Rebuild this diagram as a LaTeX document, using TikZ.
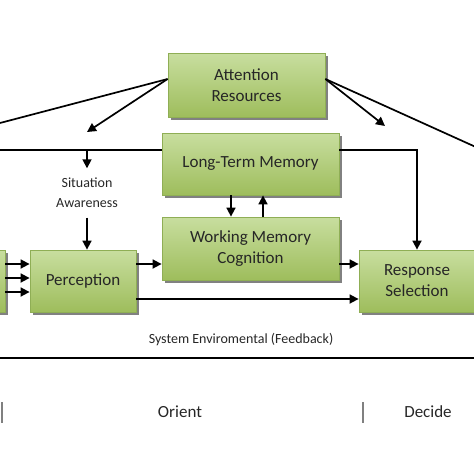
\documentclass[tikz,border=0pt]{standalone}
\usepackage{fontspec}
\setmainfont{Carlito}
\usetikzlibrary{arrows.meta,shadows}
\definecolor{boxtop}{HTML}{C8DE9F}
\definecolor{boxmid}{HTML}{ABC96E}
\definecolor{boxbot}{HTML}{9EBD5C}
\definecolor{boxline}{HTML}{8FAE55}
\begin{document}
\begin{tikzpicture}[x=1pt,y=-1pt,
  box/.style={draw=boxline, line width=0.8pt, top color=boxtop, middle color=boxmid, bottom color=boxbot,
    drop shadow={shadow xshift=2.5pt, shadow yshift=-2.5pt, fill=black!70, opacity=0.7},
    align=center, inner sep=0pt, text=black!85, font=\fontsize{17}{21}\selectfont},
  ln/.style={line width=1.7pt},
  arr/.style={line width=1.7pt, -{Triangle[length=9pt,width=9pt]}},
  small/.style={align=center, inner sep=0pt, text=black!85, font=\fontsize{14}{20}\selectfont},
  phase/.style={inner sep=0pt, text=black!85, font=\fontsize{17}{21}\selectfont}]
\useasboundingbox (0,0) rectangle (474,474);
\clip (0,0) rectangle (474,474);

\draw (246.5,85) node[box, minimum width=157pt, minimum height=64pt] (attn) {Attention\\Resources};
\draw (250.5,164) node[box, minimum width=177pt, minimum height=62pt] (ltm) {Long-Term Memory};
\draw (250.5,248.5) node[box, minimum width=177pt, minimum height=63pt] (wm) {Working Memory\\Cognition};
\draw (83,281) node[box, minimum width=106pt, minimum height=62pt] (perc) {Perception};
\draw (417,281) node[box, minimum width=116pt, minimum height=62pt] (resp) {Response\\Selection};
\draw (-50,281) node[box, minimum width=110pt, minimum height=62pt] (obs) {};

\draw (87,193) node[small, minimum height=49pt] (sa) {Situation\\Awareness};
\draw (241,340) node[small] (env) {System Enviromental (Feedback)};
\draw (180,412) node[phase] (orient) {Orient};
\draw (428,412) node[phase] (decide) {Decide};

\coordinate (fbl) at (0,150);
\coordinate (attnl) at (0,123);
\coordinate (attnsa) at (87,132);
\coordinate (attnrs) at (385,126);
\coordinate (attnr) at (478,148);
\coordinate (envl) at (0,358);
\coordinate (envr) at (474,358);

% attention resources
\draw[ln] ([yshift=6pt]attn.west) -- (attnl);
\draw[arr] ([yshift=6pt]attn.west) -- (attnsa);
\draw[arr] ([yshift=6pt]attn.east) -- (attnrs);
\draw[ln] ([yshift=6pt]attn.east) -- (attnr);

% long-term memory lines
\draw[ln] ([yshift=14pt]ltm.west) -- (fbl);
\draw[arr] (sa.north |- fbl) -- (sa.north);
\draw[arr] (sa.south) -- (sa.south |- perc.north);
\draw[arr] ([yshift=14pt]ltm.east) -| (resp.north);
\draw[arr] ([xshift=-19.5pt]ltm.south) -- ([xshift=-19.5pt]wm.north);
\draw[arr] ([xshift=12.5pt]wm.north) -- ([xshift=12.5pt]ltm.south);

% inputs to perception
\draw[arr] ([yshift=17pt]obs.east) -- ([yshift=17pt]perc.west);
\draw[arr] ([yshift=3pt]obs.east) -- ([yshift=3pt]perc.west);
\draw[arr] ([yshift=-11pt]obs.east) -- ([yshift=-11pt]perc.west);

\draw[arr] ([yshift=17pt]perc.east) -- ([yshift=17pt]perc.east -| wm.west);
\draw[arr] ([yshift=-18pt]perc.east) -- ([yshift=-18pt]resp.west);
\draw[arr] ([yshift=17pt]resp.west -| wm.east) -- ([yshift=17pt]resp.west);

% feedback line and phases
\draw[ln] (envl) -- (envr);
\draw[line width=2pt, black!50] (1.5,402) -- (1.5,423);
\draw[line width=2pt, black!50] (363,402) -- (363,423);

\end{tikzpicture}
\end{document}
